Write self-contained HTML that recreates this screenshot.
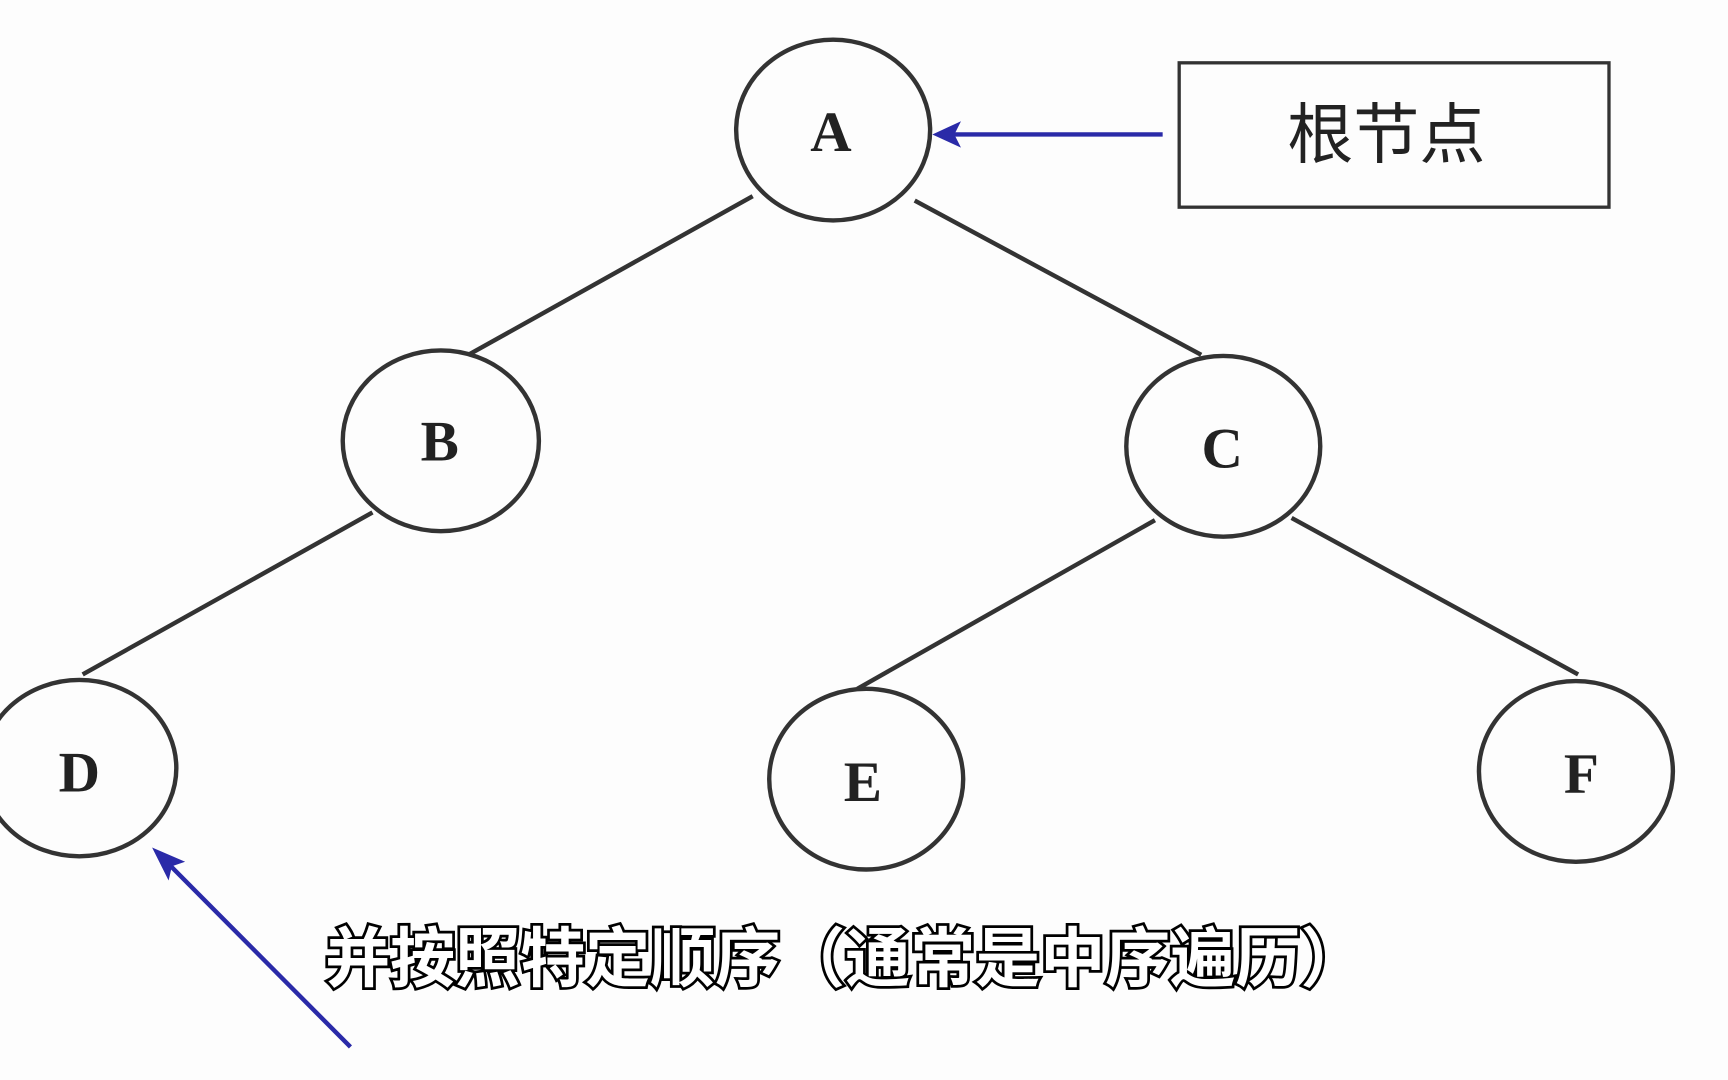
<!DOCTYPE html>
<html><head><meta charset="utf-8"><style>
html,body{margin:0;padding:0;background:#fff;width:1728px;height:1080px;overflow:hidden}
svg{display:block}
</style></head><body>
<svg width="1728" height="1080" viewBox="0 0 1568 980" xmlns="http://www.w3.org/2000/svg">
<rect width="1568" height="980" fill="#fdfdfd"/>
<g stroke="#333" stroke-width="4" fill="none">
<line x1="683" y1="178" x2="425" y2="322"/>
<line x1="830" y1="182" x2="1090" y2="322"/>
<line x1="338" y1="465" x2="75" y2="612"/>
<line x1="1048" y1="472" x2="778" y2="625"/>
<line x1="1172" y1="470" x2="1432" y2="612"/>
<ellipse cx="756" cy="118" rx="88" ry="82"/>
<ellipse cx="400" cy="400" rx="89" ry="82"/>
<ellipse cx="1110" cy="405" rx="88" ry="82"/>
<ellipse cx="72" cy="697" rx="88" ry="80"/>
<ellipse cx="786" cy="707" rx="88" ry="82"/>
<ellipse cx="1430" cy="700" rx="88" ry="82"/>
<rect x="1070" y="57" width="390" height="131" stroke-width="3"/>
</g>
<g font-family="Liberation Serif, serif" font-size="52" font-weight="bold" fill="#222" text-anchor="middle">
<text x="754" y="137">A</text>
<text x="399" y="418">B</text>
<text x="1109" y="424">C</text>
<text x="72" y="718">D</text>
<text x="783" y="727">E</text>
<text x="1435" y="719">F</text>
</g>
<text x="1258" y="143" font-family="Liberation Sans, Noto Sans CJK SC, sans-serif" font-size="60" fill="#222" text-anchor="middle">根节点</text>
<g stroke="#2a2aa8" stroke-width="4" fill="#2a2aa8">
<line x1="1055" y1="122" x2="865" y2="122"/>
<polygon points="846,122 872,110 866,122 872,134" stroke="none"/>
<line x1="318" y1="950" x2="155" y2="786"/>
<polygon points="138,769 168,782 156,786 153,799" stroke="none"/>
</g>
<text x="767" y="890" font-family="Liberation Sans, Noto Sans CJK SC, sans-serif" font-size="59" font-weight="bold" fill="#fff" stroke="#000" stroke-width="5" paint-order="stroke" text-anchor="middle">并按照特定顺序（通常是中序遍历）</text>
</svg>
</body></html>
